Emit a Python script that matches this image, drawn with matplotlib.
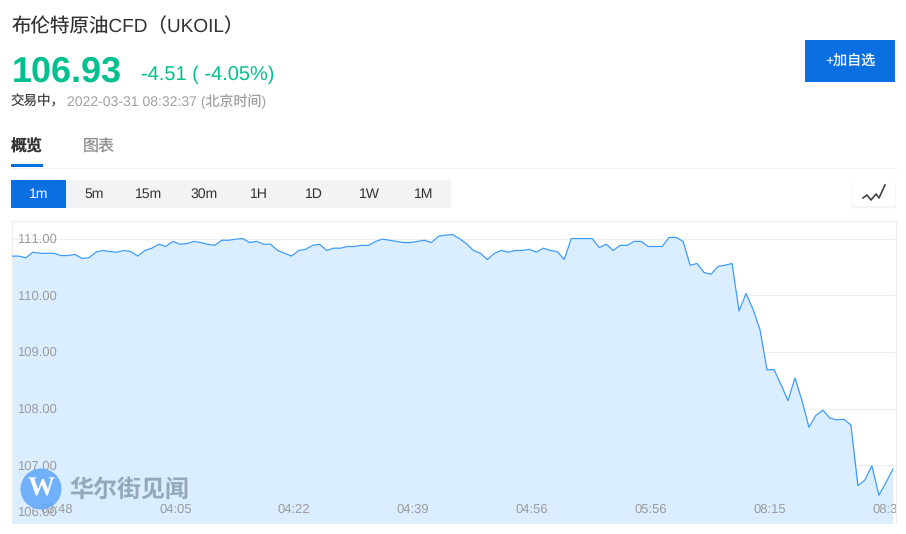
import numpy as np
import matplotlib
matplotlib.use('Agg')
import matplotlib.pyplot as plt
from matplotlib.patches import Rectangle, Circle, FancyBboxPatch
from matplotlib.transforms import blended_transform_factory

plt.rcParams['font.family'] = ['Liberation Sans', 'Noto Sans CJK SC', 'DejaVu Sans']
plt.rcParams['text.hinting'] = 'no_hinting'
plt.rcParams['text.hinting_factor'] = 1

# 1 minute closes for UKOIL
prices = [
    110.69, 110.69, 110.66, 110.76, 110.74, 110.74, 110.74, 110.70, 110.70, 110.72,
    110.65, 110.66, 110.76, 110.79, 110.77, 110.76, 110.79, 110.77, 110.69, 110.79,
    110.83, 110.90, 110.86, 110.95, 110.90, 110.91, 110.95, 110.93, 110.90, 110.88,
    110.97, 110.97, 110.99, 111.00, 110.93, 110.95, 110.90, 110.90, 110.79, 110.74,
    110.69, 110.79, 110.81, 110.88, 110.90, 110.79, 110.83, 110.83, 110.86, 110.86,
    110.88, 110.88, 110.95, 110.99, 110.97, 110.95, 110.93, 110.93, 110.95, 110.97,
    110.93, 111.04, 111.06, 111.07, 111.00, 110.91, 110.79, 110.74, 110.63, 110.74,
    110.79, 110.76, 110.79, 110.79, 110.81, 110.76, 110.83, 110.79, 110.77, 110.63,
    111.00, 111.00, 111.00, 111.00, 110.84, 110.90, 110.79, 110.88, 110.88, 110.95,
    110.95, 110.86, 110.86, 110.86, 111.02, 111.02, 110.95, 110.53, 110.56, 110.40,
    110.37, 110.51, 110.53, 110.56, 109.72, 110.03, 109.75, 109.39, 108.68, 108.69,
    108.42, 108.14, 108.54, 108.14, 107.67, 107.88, 107.97, 107.83, 107.80, 107.81,
    107.71, 106.64, 106.74, 106.99, 106.47, 106.69, 106.93,
]
y_ticks = [111, 110, 109, 108, 107, 106]
x_tick_pos = [6, 23, 40, 57, 74, 91, 108, 125]
x_tick_labels = ['03:48', '04:05', '04:22', '04:39', '04:56', '05:56', '08:15', '08:30']
intervals = ['1m', '5m', '15m', '30m', '1H', '1D', '1W', '1M']

W, H = 906, 534
fig = plt.figure(figsize=(W / 100, H / 100), dpi=100)


def pt(px):
    return px * 0.72


# price chart
left, right, top, bottom = 12, 896, 221, 523
ax = fig.add_axes([left / W, 1 - bottom / H, (right - left) / W, (bottom - top) / H], zorder=1)
x = np.arange(len(prices))
ax.set_xlim(0, 126.45)
ax.set_ylim(105.98, 111.31)
ax.fill_between(x, prices, 105, color='#dbeeff', lw=0, zorder=2)
ax.plot(x, prices, color='#3d9cf8', lw=0.9, zorder=3)
for v in y_ticks[:-1]:
    ax.axhline(v, color='#eeeeee', lw=0.8, zorder=1)
ax.set_xticks([])
ax.set_yticks([])
for s in ax.spines.values():
    s.set_color('#eeeeee')
    s.set_linewidth(0.8)
ax.spines['bottom'].set_visible(False)

trans = blended_transform_factory(ax.transAxes, ax.transData)
for v in y_ticks:
    # the lowest label is pushed up so it stays inside the plot
    dy = 9 if v == 106 else -1
    ax.annotate(f'{v:.2f}', (0, v), xycoords=trans, xytext=(5.5, dy), textcoords='offset pixels',
                ha='left', va='center', fontsize=pt(12.5), color='#9b9b9b', zorder=5)
for p, lab in zip(x_tick_pos, x_tick_labels):
    t = ax.annotate(lab, (p, 0), xycoords=ax.get_xaxis_transform(), xytext=(2.5, 13.5),
                    textcoords='offset pixels', ha='center', va='center',
                    fontsize=pt(12.5), color='#9b9b9b', zorder=5, annotation_clip=False)
    t.set_clip_on(True)
    t.set_clip_box(ax.bbox)

# page furniture in pixel coordinates
ui = fig.add_axes([0, 0, 1, 1], zorder=2)
ui.set_xlim(0, W)
ui.set_ylim(H, 0)
ui.axis('off')
ui.patch.set_alpha(0)

ui.text(11.5, 32, '布伦特原油CFD（UKOIL）', fontsize=pt(19.5), color='#333333', va='baseline')
ui.text(12, 81.5, '106.93', fontsize=pt(36), color='#00c08f', weight='bold', va='baseline')
ui.text(141, 80, '-4.51 ( -4.05%)', fontsize=pt(20), color='#00c08f', va='baseline')
ui.text(11, 106, '交易中，', fontsize=pt(13.5), color='#444444', va='baseline')
ui.text(67, 106, '2022-03-31 08:32:37 (北京时间)', fontsize=pt(14), color='#a0a0a0', va='baseline')

ui.text(27, 147.5, '概览', fontsize=pt(16), color='#333333', weight='bold', ha='center', va='center')
ui.text(99, 147.5, '图表', fontsize=pt(16), color='#8c8c8c', ha='center', va='center')
ui.plot([11, 896], [167.5, 167.5], color='#f1f1f1', lw=0.8)
ui.add_patch(Rectangle((11, 164), 32, 3, color='#0a6fe0', lw=0))

ui.add_patch(Rectangle((805, 40), 90, 42, color='#0a6fe0', lw=0))
ui.text(850, 61, '+加自选', fontsize=pt(14), color='white', ha='center', va='center')

for i, lab in enumerate(intervals):
    bx = 11 + i * 55
    active = i == 0
    ui.add_patch(Rectangle((bx, 180), 55, 28, lw=0, color='#0a6fe0' if active else '#f2f3f5'))
    ui.text(bx + 28, 194, lab, fontsize=pt(14), ha='center', va='center',
            color='white' if active else '#333333')

# line chart toggle with soft shadow
for grow, a in [(2.0, 0.10), (1.0, 0.16)]:
    ui.add_patch(FancyBboxPatch((853 - grow / 2, 181), 42 + grow, 26 + grow,
                                boxstyle='round,pad=0,rounding_size=2', lw=0,
                                fc='#c8d4e6', alpha=a))
ui.add_patch(FancyBboxPatch((853, 180), 42, 26, boxstyle='round,pad=0,rounding_size=2',
                            lw=0, fc='white'))
ui.plot([863, 867, 871, 876, 879, 885], [198, 195, 200, 194, 198, 185], color='#444444', lw=1.2)

# watermark
ui.add_patch(Circle((41, 489), 20.5, color='#62a8fb', alpha=0.88, lw=0))
ui.text(41, 489, 'W', family='Liberation Serif', weight='bold',
        fontsize=pt(27), color='white', ha='center', va='center')
ui.text(69, 490, '华尔街见闻', family='Noto Sans CJK SC', weight='bold', fontsize=pt(24),
        color='#8fa4b8', alpha=0.95, va='center')

fig.savefig('out.png', dpi=100, facecolor='white')
